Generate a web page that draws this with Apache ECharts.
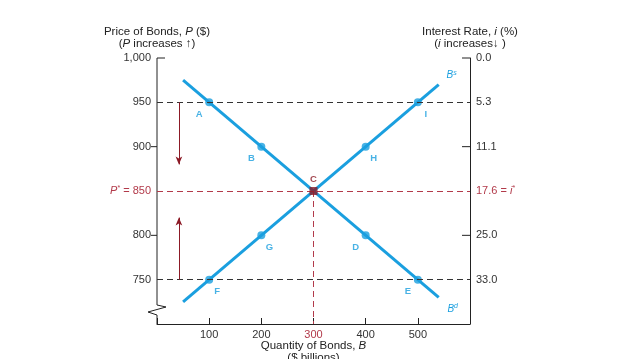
<!DOCTYPE html>
<html><head><meta charset="utf-8">
<script src="https://cdn.jsdelivr.net/npm/echarts@6/dist/echarts.min.js"></script>
<style>html,body{margin:0;padding:0;background:#fff}#c{width:638px;height:359px}</style>
</head><body><div id="c"></div>
<script>
// ---- data ----
const quantityTicks = [100, 200, 300, 400, 500];
const priceTicks = [750, 800, 850, 900, 950, 1000];
const priceLabels = ['750', '800', 'P* = 850', '900', '950', '1,000'];
const rateLabels = ['33.0', '25.0', '17.6 = i*', '11.1', '5.3', '0.0'];
const bdLineQ = [50, 540];
const bdLineP = [975, 730];
const bsLineQ = [50, 540];
const bsLineP = [725, 970];
const demandNames = ['A', 'B', 'D', 'E'];
const demandQ = [100, 200, 400, 500];
const demandP = [950, 900, 800, 750];
const supplyNames = ['F', 'G', 'H', 'I'];
const supplyQ = [100, 200, 400, 500];
const supplyP = [750, 800, 900, 950];
const eqName = 'C';
const eqQ = 300;
const eqP = 850;
const arrowQ = 42;
const arrowDown = [950, 880];
const arrowUp = [750, 820];
const blackDashP = [950, 750];

const BLUE = '#1a9fdf';
const DARKRED = '#8c1a26';
const RED = '#b23a4a';
const FONT = 'Liberation Sans, Arial, sans-serif';

const chart = echarts.init(document.getElementById('c'), null, {renderer: 'canvas'});

function priceFmt(v) {
  const i = priceTicks.indexOf(v);
  if (i < 0) return '';
  if (v === eqP) return '{i|P}{s|*}{r| = ' + v + '}';
  return priceLabels[i];
}
function rateFmt(v) {
  const i = priceTicks.indexOf(v);
  if (i < 0) return '';
  if (v === eqP) return '{r|' + rateLabels[i].split(' ')[0] + ' = }{ri|i}{s|*}';
  return rateLabels[i];
}

const pairs = (qs, ps) => qs.map((q, k) => [q, ps[k]]);

const labelStyle = {fontSize: 9.5, fontWeight: 'bold', fontFamily: FONT};
const TS = 11.5;

const option = {
  animation: false,
  textStyle: {fontFamily: FONT},
  grid: {left: 157, right: 168, top: 58, bottom: 35, containLabel: false, outerBoundsMode: 'none'},
  xAxis: {
    type: 'value', min: 0, max: 600, interval: 100,
    axisLine: {show: true, lineStyle: {color: '#222', width: 1}},
    axisTick: {show: true, inside: true, length: 6, lineStyle: {color: '#222'}},
    splitLine: {show: false},
    axisLabel: {
      margin: 5, fontSize: 11, color: '#333', fontFamily: FONT,
      formatter: v => quantityTicks.indexOf(v) < 0 ? '' : (v === eqQ ? '{r|' + v + '}' : String(v)),
      rich: {r: {color: RED, fontSize: 11, fontFamily: FONT}}
    },
    name: 'Quantity of Bonds, {i|B}\n($ billions)',
    nameLocation: 'middle', nameGap: 16, nameMoveOverlap: false,
    nameTextStyle: {fontSize: TS, color: '#222', fontFamily: FONT, lineHeight: 12,
      rich: {i: {fontStyle: 'italic', fontSize: TS, color: '#222', fontFamily: FONT}}}
  },
  yAxis: [{
    type: 'value', min: 700, max: 1000, interval: 50, position: 'left',
    axisLine: {show: false}, axisTick: {show: false}, splitLine: {show: false},
    axisLabel: {
      margin: 6, fontSize: 11, color: '#333', fontFamily: FONT, formatter: priceFmt,
      rich: {
        i: {fontStyle: 'italic', color: RED, fontSize: 11, fontFamily: FONT},
        s: {color: RED, fontSize: 7, padding: [0, 0, 6, 0], fontFamily: FONT},
        r: {color: RED, fontSize: 11, fontFamily: FONT}
      }
    },
    name: 'Price of Bonds, {i|P} ($)\n({i|P} increases \u2191)',
    nameLocation: 'end', nameGap: 8,
    nameTextStyle: {fontSize: TS, color: '#222', align: 'center', lineHeight: 12, fontFamily: FONT,
      rich: {i: {fontStyle: 'italic', fontSize: TS, color: '#222', fontFamily: FONT}}}
  }, {
    type: 'value', min: 700, max: 1000, interval: 50, position: 'right',
    axisLine: {show: true, lineStyle: {color: '#222', width: 1}},
    axisTick: {show: false}, splitLine: {show: false},
    axisLabel: {
      margin: 6, fontSize: 11, color: '#333', fontFamily: FONT, formatter: rateFmt,
      rich: {
        ri: {fontStyle: 'italic', color: RED, fontSize: 11, fontFamily: FONT},
        s: {color: RED, fontSize: 7, padding: [0, 0, 6, 0], fontFamily: FONT},
        r: {color: RED, fontSize: 11, fontFamily: FONT}
      }
    },
    name: 'Interest Rate, {i|i} (%)\n({i|i} increases\u2193 )',
    nameLocation: 'end', nameGap: 8,
    nameTextStyle: {fontSize: TS, color: '#222', align: 'center', lineHeight: 12, fontFamily: FONT,
      rich: {i: {fontStyle: 'italic', fontSize: TS, color: '#222', fontFamily: FONT}}}
  }],
  series: [
    {
      type: 'line', name: 'guides', data: [], silent: true,
      markLine: {
        silent: true, symbol: ['none', 'none'], label: {show: false},
        data: [
          ...blackDashP.map(p => [{coord: [0, p], lineStyle: {color: '#333', type: [6, 4], width: 1}}, {coord: [600, p]}]),
          [{coord: [0, eqP], lineStyle: {color: RED, type: [6, 4], width: 1}}, {coord: [600, eqP]}],
          [{coord: [eqQ, eqP], lineStyle: {color: RED, type: [6, 4], width: 1}}, {coord: [eqQ, 700]}]
        ]
      }
    },
    {
      type: 'line', name: 'arrows', data: [], silent: true,
      markLine: {
        silent: true, symbol: ['none', 'arrow'], symbolSize: [5, 8], label: {show: false},
        lineStyle: {color: DARKRED, type: 'solid', width: 1},
        data: [
          [{coord: [arrowQ, arrowDown[0]]}, {coord: [arrowQ, arrowDown[1]]}],
          [{coord: [arrowQ, arrowUp[0]]}, {coord: [arrowQ, arrowUp[1]]}]
        ]
      }
    },
    {
      type: 'line', name: 'Bd', data: pairs(bdLineQ, bdLineP), showSymbol: false,
      lineStyle: {color: BLUE, width: 3}, z: 3,
      markPoint: {
        symbol: 'circle', symbolSize: 0,
        data: [{coord: [bdLineQ[1], bdLineP[1]], label: {show: true, formatter: '{i|B}{s|d}', offset: [14, 12],
          rich: {i: {fontStyle: 'italic', color: BLUE, fontSize: 10, fontFamily: FONT}, s: {fontStyle: 'italic', color: BLUE, fontSize: 7, padding: [0, 0, 6, 0], fontFamily: FONT}}}}]
      }
    },
    {
      type: 'line', name: 'Bs', data: pairs(bsLineQ, bsLineP), showSymbol: false,
      lineStyle: {color: BLUE, width: 3}, z: 3,
      markPoint: {
        symbol: 'circle', symbolSize: 0,
        data: [{coord: [bsLineQ[1], bsLineP[1]], label: {show: true, formatter: '{i|B}{s|s}', offset: [13, -9],
          rich: {i: {fontStyle: 'italic', color: BLUE, fontSize: 10, fontFamily: FONT}, s: {fontStyle: 'italic', color: BLUE, fontSize: 7, padding: [0, 0, 6, 0], fontFamily: FONT}}}}]
      }
    },
    {
      type: 'scatter', name: 'demandPts', symbol: 'circle', symbolSize: 8, z: 4,
      itemStyle: {color: BLUE},
      data: demandQ.map((q, k) => ({value: [q, demandP[k]], name: demandNames[k]})),
      label: {show: true, position: 'inside', offset: [-10, 12], formatter: p => p.name, color: BLUE, ...labelStyle}
    },
    {
      type: 'scatter', name: 'supplyPts', symbol: 'circle', symbolSize: 8, z: 4,
      itemStyle: {color: BLUE},
      data: supplyQ.map((q, k) => ({value: [q, supplyP[k]], name: supplyNames[k]})),
      label: {show: true, position: 'inside', offset: [8, 12], formatter: p => p.name, color: BLUE, ...labelStyle}
    },
    {
      type: 'scatter', name: 'eq', symbol: 'rect', symbolSize: 8, z: 5,
      itemStyle: {color: DARKRED},
      data: [{value: [eqQ, eqP], name: eqName}],
      label: {show: true, position: 'inside', offset: [0, -12], formatter: p => p.name, color: DARKRED, ...labelStyle}
    }
  ]
};
chart.setOption(option);

// axis decorations (left axis with break, custom ticks) from the axis scales
const x0 = chart.convertToPixel({xAxisIndex: 0}, 0);
const xR = chart.convertToPixel({xAxisIndex: 0}, 600);
const yTop = chart.convertToPixel({yAxisIndex: 0}, 1000);
const yBot = chart.convertToPixel({yAxisIndex: 0}, 700);
const yBreak = yBot - 19;
const stroke = {stroke: '#222', lineWidth: 1};
const g = [{
  type: 'polyline', silent: true,
  shape: {points: [[x0, yTop], [x0, yBreak], [x0 + 9, yBreak + 2], [x0 - 9, yBreak + 7], [x0, yBreak + 10], [x0, yBot]]},
  style: {stroke: '#222', lineWidth: 1, fill: null}
}];
const leftOuter = [800, 900];
leftOuter.forEach(v => {
  const y = chart.convertToPixel({yAxisIndex: 0}, v);
  g.push({type: 'line', silent: true, shape: {x1: x0 - 6, y1: y, x2: x0, y2: y}, style: stroke});
});
g.push({type: 'line', silent: true, shape: {x1: x0, y1: yTop, x2: x0 + 8, y2: yTop}, style: stroke});
[800, 900].forEach(v => {
  const y = chart.convertToPixel({yAxisIndex: 1}, v);
  g.push({type: 'line', silent: true, shape: {x1: xR - 8, y1: y, x2: xR, y2: y}, style: stroke});
});
g.push({type: 'line', silent: true, shape: {x1: xR - 8, y1: yTop, x2: xR, y2: yTop}, style: stroke});
chart.setOption({graphic: g});
</script>
</body></html>
